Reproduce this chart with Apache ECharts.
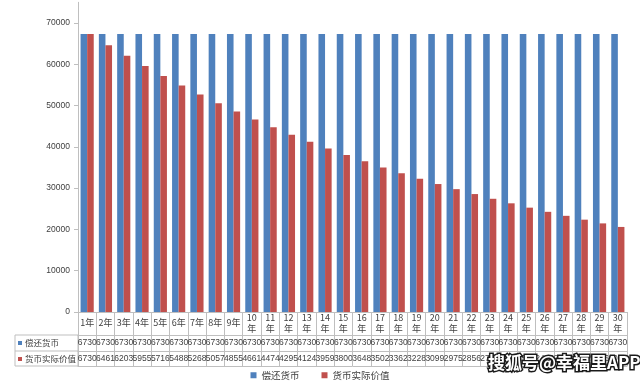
<!DOCTYPE html>
<html><head><meta charset="utf-8">
<script src="https://cdn.jsdelivr.net/npm/echarts@6/dist/echarts.min.js"></script>
<style>html,body{margin:0;padding:0;background:#fff}#c{width:640px;height:385px}</style>
</head><body><div id="c"></div>
<script>
const categories = ['1年','2年','3年','4年','5年','6年','7年','8年','9年','10年','11年','12年','13年','14年','15年','16年','17年','18年','19年','20年','21年','22年','23年','24年','25年','26年','27年','28年','29年','30年'];
const seriesNames = ['偿还货币','货币实际价值'];
const repay = [67300,67300,67300,67300,67300,67300,67300,67300,67300,67300,67300,67300,67300,67300,67300,67300,67300,67300,67300,67300,67300,67300,67300,67300,67300,67300,67300,67300,67300,67300];
const realValue = [67300,64610,62030,59550,57160,54880,52680,50570,48550,46610,44740,42950,41240,39590,38000,36480,35020,33620,32280,30990,29750,28560,27420,26320,25270,24260,23290,22360,21460,20600];
const yTicks = [0,10000,20000,30000,40000,50000,60000,70000];

const chart = echarts.init(document.getElementById('c'));
const gridLine = '#BFBFBF';
const txt = '#404040';
const cellFont = {fontFamily:'Liberation Sans, Arial, sans-serif', fontSize:8.5, color:txt};
const fmtCell = v => String(v).slice(0,4);
const catLabel = c => c.length > 2 ? c.slice(0, c.length-1) + '\n年' : c;

chart.setOption({
  animation:false,
  grid:{left:78, right:13, top:2.3, bottom:73},
  legend:{
    data:seriesNames, bottom:0, left:'center', icon:'rect', itemWidth:6, itemHeight:6, itemGap:22,
    textStyle:{fontFamily:'Noto Sans CJK SC', fontSize:9.5, color:txt}
  },
  xAxis:[
    {type:'category', data:categories, position:'bottom',
     axisLine:{show:true, lineStyle:{color:gridLine}},
     axisTick:{show:true, length:54, interval:0, lineStyle:{color:gridLine}},
     axisLabel:{interval:0, margin:11, verticalAlign:'middle', lineHeight:11,
       fontFamily:'Noto Sans CJK SC', fontSize:9, color:txt, formatter:catLabel}},
    {type:'category', data:repay, position:'bottom', offset:23,
     axisLine:{show:true, lineStyle:{color:gridLine}}, axisTick:{show:false},
     axisLabel:Object.assign({interval:0, margin:3, formatter:fmtCell}, cellFont)},
    {type:'category', data:realValue, position:'bottom', offset:39,
     axisLine:{show:true, lineStyle:{color:gridLine}}, axisTick:{show:false},
     axisLabel:Object.assign({interval:0, margin:3, formatter:fmtCell}, cellFont)},
    {type:'category', data:categories, position:'bottom', offset:54,
     axisLine:{show:true, lineStyle:{color:gridLine}}, axisTick:{show:false},
     axisLabel:{show:false}}
  ],
  yAxis:{type:'value', min:0, max:75000, interval:10000,
    axisLine:{show:true, lineStyle:{color:gridLine}},
    axisTick:{show:true, length:4, customValues:yTicks, lineStyle:{color:gridLine}},
    axisLabel:{customValues:yTicks, margin:8, formatter:v => String(v), fontFamily:'Liberation Sans, Arial, sans-serif', fontSize:8.5, color:txt},
    splitLine:{show:false}},
  series:[
    {name:seriesNames[0], type:'bar', data:repay, barGap:'0%', barCategoryGap:'28%', itemStyle:{color:'#4F81BD'}},
    {name:seriesNames[1], type:'bar', data:realValue, itemStyle:{color:'#C0504D'}}
  ],
  graphic:[
    {type:'rect', shape:{x:15, y:335, width:63, height:31}, style:{fill:'none', stroke:gridLine, lineWidth:1}},
    {type:'line', shape:{x1:15, y1:351, x2:78, y2:351}, style:{stroke:gridLine, lineWidth:1}},
    {type:'rect', shape:{x:18, y:341, width:4, height:4}, style:{fill:'#4F81BD'}},
    {type:'text', style:{x:25, y:343, text:seriesNames[0], verticalAlign:'middle', font:'8.5px "Noto Sans CJK SC"', fill:txt}},
    {type:'rect', shape:{x:18, y:357, width:4, height:4}, style:{fill:'#C0504D'}},
    {type:'text', style:{x:25, y:359, text:seriesNames[1], verticalAlign:'middle', font:'8.5px "Noto Sans CJK SC"', fill:txt}},
    {type:'text', z:100, style:{x:488, y:363, text:'搜狐号@幸福里APP', verticalAlign:'middle',
      font:'bold 17px "Noto Sans CJK SC"', fill:'#ffffff', stroke:'#1a1a1a', lineWidth:3}}
  ]
});
</script></body></html>
